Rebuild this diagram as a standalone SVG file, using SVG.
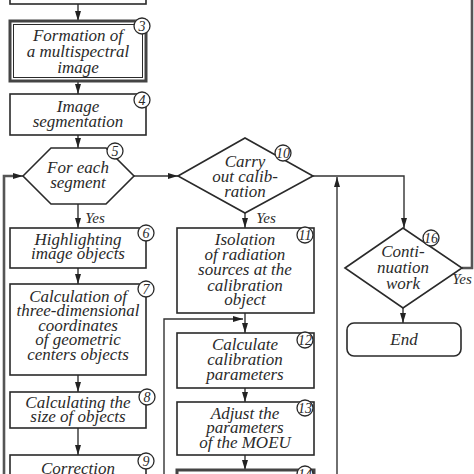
<svg xmlns="http://www.w3.org/2000/svg" width="474" height="474" viewBox="0 0 474 474">
<style>
.b{fill:#fff;stroke:#2a2a2a;stroke-width:1.6}
.t{font-family:"Liberation Serif","Times New Roman",serif;font-style:italic;font-size:17px;fill:#2a2a2a;text-anchor:middle}
.n{font-family:"Liberation Serif","Times New Roman",serif;font-style:italic;font-size:14px;fill:#2a2a2a;text-anchor:middle}
.c{fill:#fff;stroke:#2a2a2a;stroke-width:1.3}
.l{fill:none;stroke:#333;stroke-width:1.4}
.g{fill:none;stroke:#555;stroke-width:2.6}
</style>
<defs>
<marker id="a" viewBox="0 0 10 6" refX="10" refY="3" markerWidth="10" markerHeight="6" markerUnits="userSpaceOnUse" orient="auto">
<path d="M0,0 L10,3 L0,6 z" fill="#222"/>
</marker>
</defs>
<rect width="474" height="474" fill="#fff"/>
<g id="connectors">
<path class="l" d="M78,4 V21" marker-end="url(#a)"/>
<path class="l" d="M78,81 V94" marker-end="url(#a)"/>
<path class="l" d="M78,135 V148" marker-end="url(#a)"/>
<path class="l" d="M78,204 V228" marker-end="url(#a)"/>
<path class="l" d="M78,268 V284" marker-end="url(#a)"/>
<path class="l" d="M78,375 V392" marker-end="url(#a)"/>
<path class="l" d="M78,428 V455" marker-end="url(#a)"/>
<path class="g" d="M4,474 V176 H14"/>
<path class="l" d="M13,176 H23" marker-end="url(#a)"/>
<path class="l" d="M134,176 H178" marker-end="url(#a)"/>
<path class="l" d="M245,213 V228" marker-end="url(#a)"/>
<path class="l" d="M245,313 V333" marker-end="url(#a)"/>
<path class="l" d="M164,474 V319 H243" marker-end="url(#a)"/>
<path class="l" d="M245,388 V402" marker-end="url(#a)"/>
<path class="l" d="M245,455 V470" marker-end="url(#a)"/>
<path class="l" d="M313,176 H404 V228" marker-end="url(#a)"/>
<path class="l" d="M337,474 V177" marker-end="url(#a)"/>
<path class="l" d="M403,308 V323" marker-end="url(#a)"/>
<path class="g" d="M462,268 H472 V0"/>
<text class="t" x="95" y="223" style="font-size:15px">Yes</text>
<text class="t" x="266" y="223" style="font-size:15px">Yes</text>
<text class="t" x="462" y="284" style="font-size:15px">Yes</text>
</g>
<g id="n2">
<rect class="b" x="10" y="-30" width="136" height="34"/>
</g>
<g id="n3">
<rect class="b" x="10" y="21" width="136" height="60" style="stroke-width:3;stroke:#444"/>
<rect x="13.5" y="24.5" width="129" height="53" fill="none" stroke="#2a2a2a" stroke-width="1"/>
<text class="t" x="78" y="41">Formation of</text>
<text class="t" x="78" y="57">a multispectral</text>
<text class="t" x="78" y="73">image</text>
<circle class="c" cx="142" cy="26" r="8"/><text class="n" x="142" y="31">3</text>
</g>
<g id="n4">
<rect class="b" x="10" y="94" width="136" height="41"/>
<text class="t" x="78" y="112">Image</text>
<text class="t" x="78" y="127">segmentation</text>
<circle class="c" cx="142" cy="100" r="8"/><text class="n" x="142" y="105">4</text>
</g>
<g id="n5">
<polygon class="b" points="23,176 51,148 106,148 134,176 106,204 51,204"/>
<text class="t" x="78" y="173">For each</text>
<text class="t" x="78" y="188">segment</text>
<circle class="c" cx="115" cy="151" r="8"/><text class="n" x="115" y="156">5</text>
</g>
<g id="n6">
<rect class="b" x="10" y="228" width="136" height="40"/>
<text class="t" x="78" y="245">Highlighting</text>
<text class="t" x="78" y="259">image objects</text>
<circle class="c" cx="146" cy="233" r="8"/><text class="n" x="146" y="238">6</text>
</g>
<g id="n7">
<rect class="b" x="10" y="284" width="136" height="91"/>
<text class="t" x="78" y="302">Calculation of</text>
<text class="t" x="78" y="316">three-dimensional</text>
<text class="t" x="78" y="331">coordinates</text>
<text class="t" x="78" y="345">of geometric</text>
<text class="t" x="78" y="360">centers objects</text>
<circle class="c" cx="146" cy="289" r="8"/><text class="n" x="146" y="294">7</text>
</g>
<g id="n8">
<rect class="b" x="10" y="392" width="136" height="36"/>
<text class="t" x="78" y="408">Calculating the</text>
<text class="t" x="78" y="422">size of objects</text>
<circle class="c" cx="147" cy="397" r="8"/><text class="n" x="147" y="402">8</text>
</g>
<g id="n9">
<rect class="b" x="10" y="455" width="136" height="40"/>
<text class="t" x="78" y="474">Correction</text>
<circle class="c" cx="146" cy="461" r="8"/><text class="n" x="146" y="466">9</text>
</g>
<g id="n10">
<polygon class="b" points="178,176 245,138 313,176 245,213"/>
<text class="t" x="245" y="167">Carry</text>
<text class="t" x="245" y="182">out calib-</text>
<text class="t" x="245" y="197">ration</text>
<circle class="c" cx="283" cy="153" r="8"/><text class="n" x="283" y="158">10</text>
</g>
<g id="n11">
<rect class="b" x="177" y="228" width="137" height="85"/>
<text class="t" x="245" y="245">Isolation</text>
<text class="t" x="245" y="260">of radiation</text>
<text class="t" x="245" y="275">sources at the</text>
<text class="t" x="245" y="291">calibration</text>
<text class="t" x="245" y="305">object</text>
<circle class="c" cx="305" cy="235" r="8"/><text class="n" x="305" y="240">11</text>
</g>
<g id="n12">
<rect class="b" x="177" y="333" width="137" height="55"/>
<text class="t" x="245" y="350">Calculate</text>
<text class="t" x="245" y="365">calibration</text>
<text class="t" x="245" y="380">parameters</text>
<circle class="c" cx="305" cy="340" r="8"/><text class="n" x="305" y="345">12</text>
</g>
<g id="n13">
<rect class="b" x="177" y="402" width="137" height="53"/>
<text class="t" x="245" y="419">Adjust the</text>
<text class="t" x="245" y="433">parameters</text>
<text class="t" x="245" y="448">of the MOEU</text>
<circle class="c" cx="305" cy="408" r="8"/><text class="n" x="305" y="413">13</text>
</g>
<g id="n14">
<rect class="b" x="177" y="470" width="137" height="30" style="stroke-width:3;stroke:#444"/>
<circle class="c" cx="305" cy="474" r="8"/><text class="n" x="305" y="479">14</text>
</g>
<g id="n16">
<polygon class="b" points="345,268 403,228 462,268 403,308"/>
<text class="t" x="403" y="257">Conti-</text>
<text class="t" x="403" y="273">nuation</text>
<text class="t" x="403" y="289">work</text>
<circle class="c" cx="431" cy="238" r="8"/><text class="n" x="431" y="243">16</text>
</g>
<g id="end">
<rect class="b" x="347" y="323" width="114" height="33" rx="7"/>
<text class="t" x="404" y="345">End</text>
</g>
</svg>
